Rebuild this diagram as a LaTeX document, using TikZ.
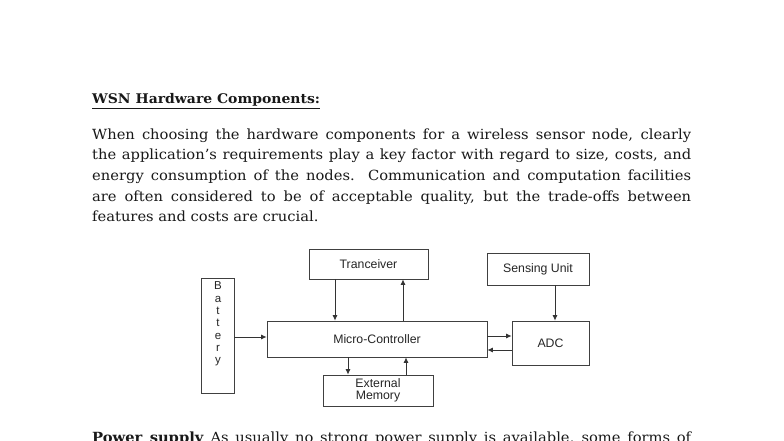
\documentclass[tikz,border=0pt]{standalone}
\usepackage{fontspec}
\setmainfont[FakeStretch=1.05]{DejaVu Serif}
\newfontfamily\diagfont{Liberation Sans}
\usetikzlibrary{arrows.meta}
\tikzset{
  box/.style={draw=black!75, line width=0.8pt, rectangle, inner sep=0pt,
    font=\diagfont\fontsize{12.3}{12.5}\selectfont, text=black!85},
  arr/.style={-{Latex[length=5.5pt,width=5pt]}, line width=0.8pt, draw=black!80},
  bodyline/.style={anchor=base west, inner sep=0pt, font=\fontsize{14}{16}\selectfont, text=black!90},
}
\newcommand{\jline}[1]{\makebox[599pt][s]{#1}}
\begin{document}
\begin{tikzpicture}[x=1pt,y=-1pt]
\useasboundingbox (0,0) rectangle (784,441);
\clip (0,0) rectangle (784,441);
\fill[white] (0,0) rectangle (784,441);
% heading and text
\node[bodyline, font=\bfseries\fontsize{13.3}{15}\selectfont] (head) at (92,104) {\underline{WSN Hardware Components:}};
\node[bodyline] (l1) at (92,139.5) {\jline{When choosing the hardware components for a wireless sensor node, clearly}};
\node[bodyline] (l2) at (92,160) {\jline{the application’s requirements play a key factor with regard to size, costs, and}};
\node[bodyline] (l3) at (92,180.5) {\jline{energy consumption of the nodes. Communication and computation facilities}};
\node[bodyline] (l4) at (92,201) {\jline{are often considered to be of acceptable quality, but the trade-offs between}};
\node[bodyline] (l5) at (92,221.5) {features and costs are crucial.};
\node[bodyline] (l6) at (92,442) {\jline{\textbf{Power supply} As usually no strong power supply is available, some forms of}};
% diagram
\node[box, minimum width=33pt, minimum height=115pt] (bat) at (217.5,335.5) {};
\node[inner sep=0pt, align=center, font=\diagfont\fontsize{11.5}{12.3}\selectfont, text=black!85] (battxt) at (218,324) {B\\a\\t\\t\\e\\r\\y};
\node[box, minimum width=119pt, minimum height=30pt] (tr) at (368.5,264) {Tranceiver};
\node[box, minimum width=102pt, minimum height=32pt] (su) at (538,269) {Sensing Unit};
\node[box, minimum width=220pt, minimum height=36pt] (mc) at (377,339) {Micro-Controller};
\node[box, minimum width=77pt, minimum height=44pt] (adc) at (550.5,343) {ADC};
\node[box, minimum width=110pt, minimum height=31pt, align=center, font=\diagfont\fontsize{12.3}{11.8}\selectfont] (ext) at (378,390.5) {External\\Memory};
% connectors
\draw[arr] ([yshift=2pt]bat.east |- mc.west) -- ([yshift=2pt]mc.west);
\draw[arr] ([xshift=-33.5]tr.south) -- ([xshift=-33.5]tr.south |- mc.north);
\draw[arr] ([xshift=34.5]tr.south |- mc.north) -- ([xshift=34.5]tr.south);
\draw[arr] ([xshift=17]su.south) -- ([xshift=17]su.south |- adc.north);
\draw[arr] ([yshift=3pt]mc.east) -- ([yshift=3pt]mc.east -| adc.west);
\draw[arr] ([yshift=-11pt]mc.east -| adc.west) -- ([yshift=-11pt]mc.east);
\draw[arr] ([xshift=-30]ext.north |- mc.south) -- ([xshift=-30]ext.north);
\draw[arr] ([xshift=28]ext.north) -- ([xshift=28]ext.north |- mc.south);
\end{tikzpicture}
\end{document}
